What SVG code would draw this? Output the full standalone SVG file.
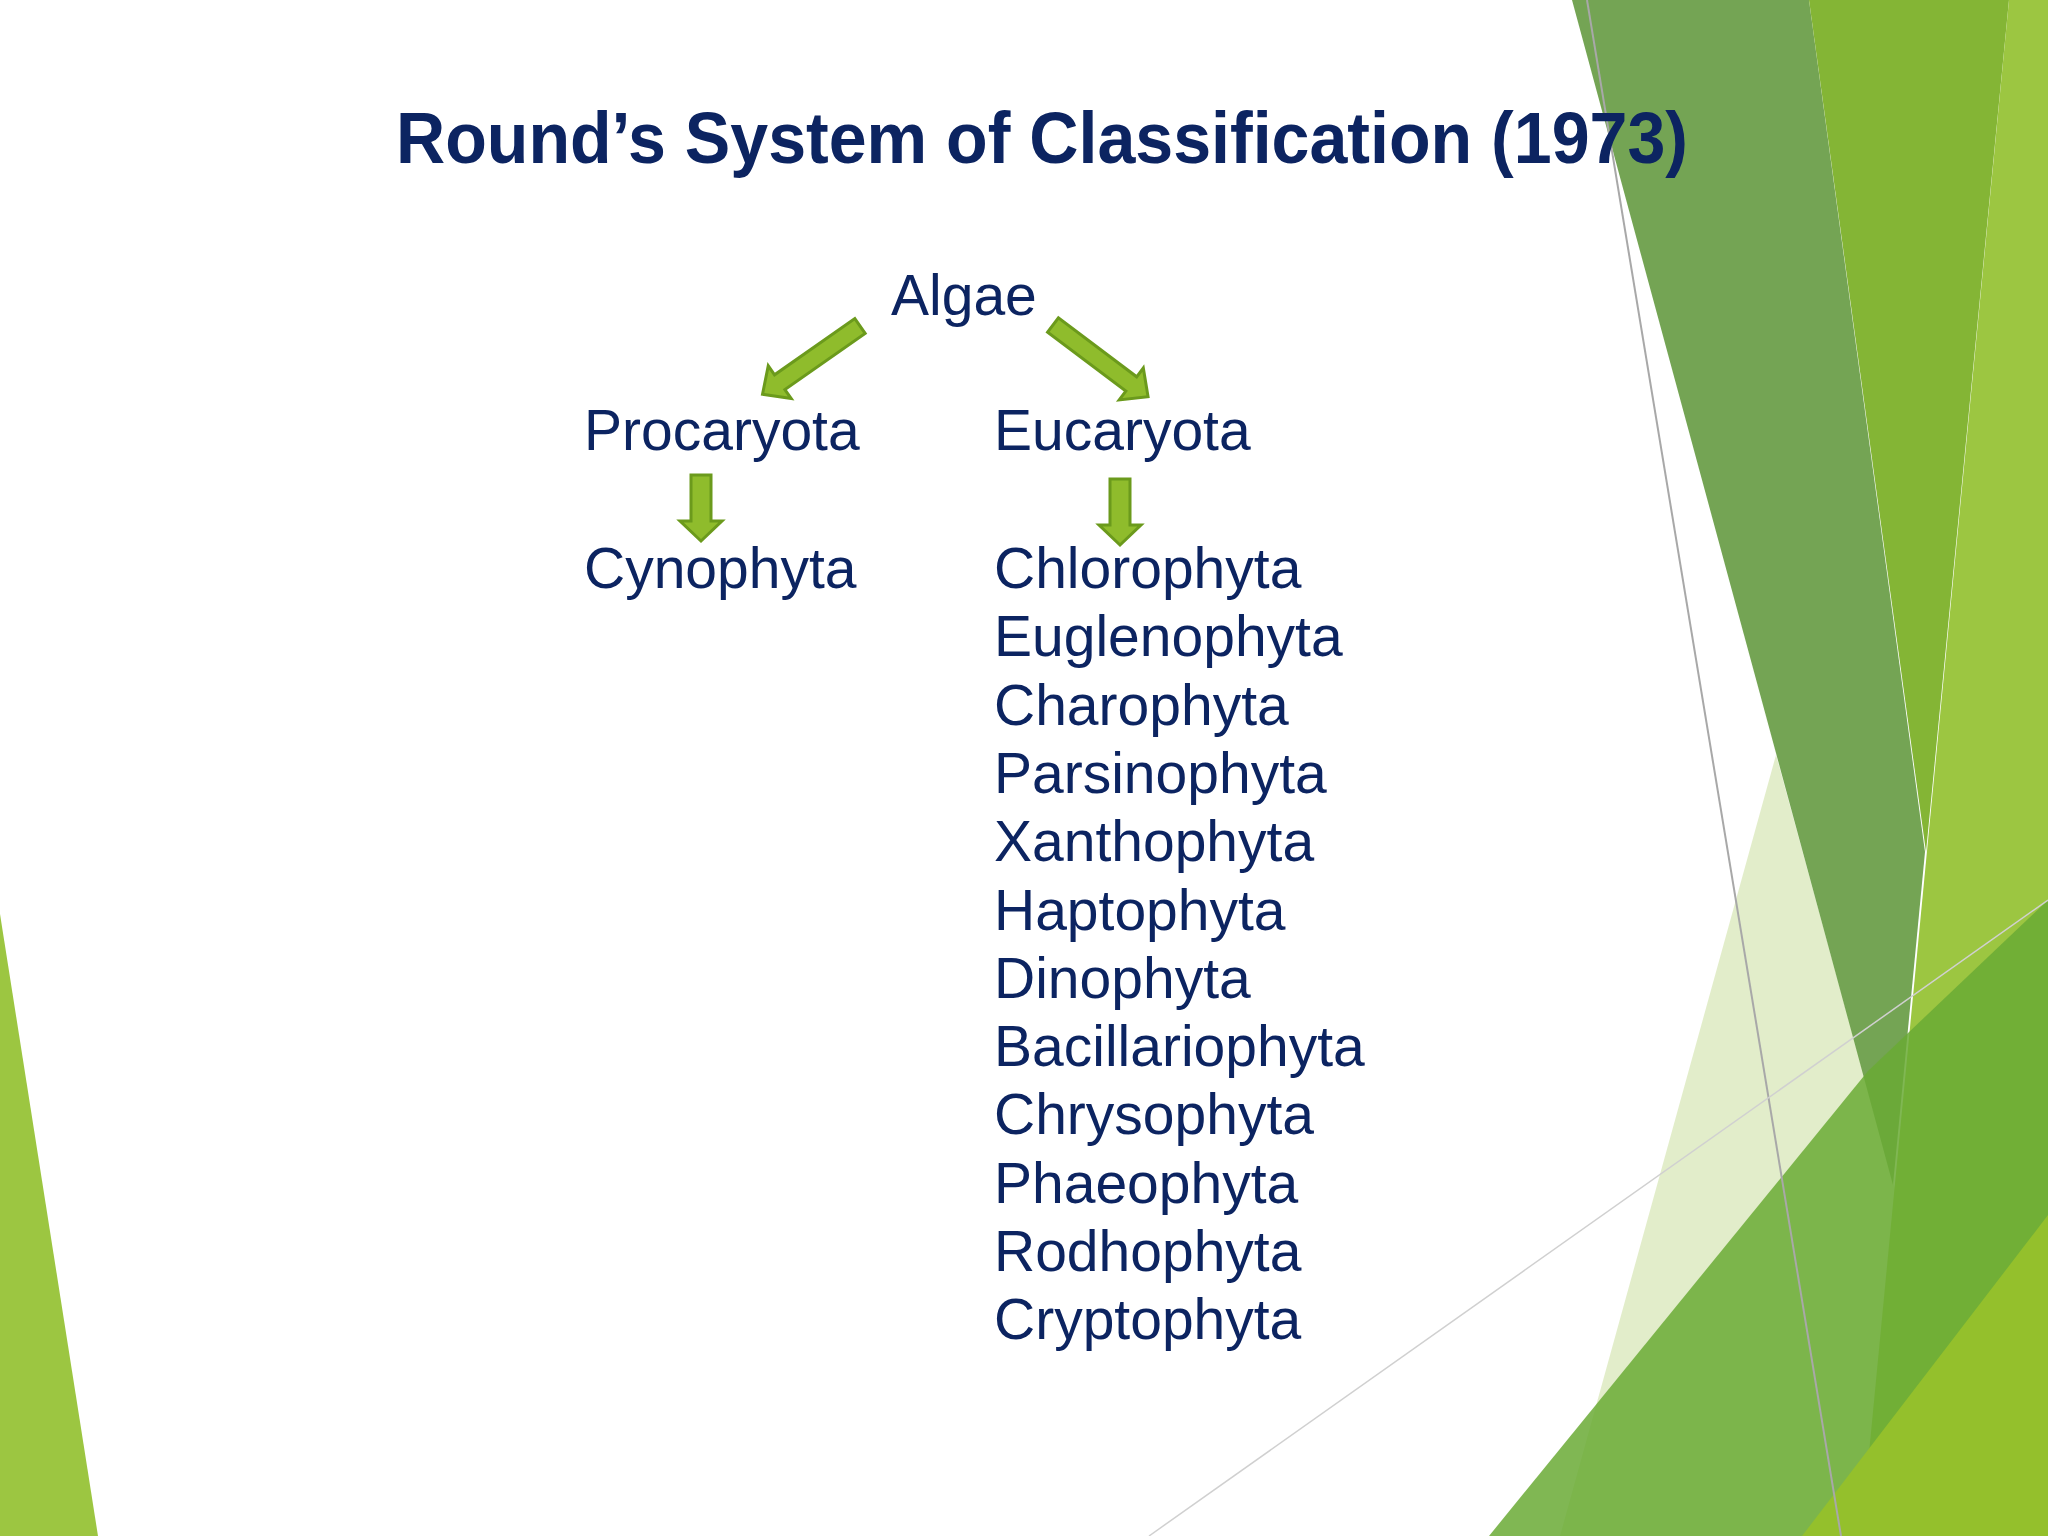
<svg xmlns="http://www.w3.org/2000/svg" width="2048" height="1536" viewBox="0 0 2048 1536">
<style>
.t{font-family:"Liberation Sans",Arial,sans-serif;fill:#0c2461;font-size:57px}
.h{font-family:"Liberation Sans",Arial,sans-serif;fill:#0c2461;font-size:72px;font-weight:bold}
.arr{fill:#8fbc2c;stroke:#6b9a1c;stroke-width:3}
</style>
<rect width="2048" height="1536" fill="#ffffff"/>
<g id="background">
<polygon points="1698,470 1776,755 1560,1536 1990,1536" fill="#cfe1a6" opacity="0.6"/>
<polygon points="1572,0 1809,0 1925,852 1893,1185" fill="#5c9436" opacity="0.85"/>
<polygon points="1809,0 2009,0 1926,852" fill="#84b535"/>
<polygon points="2009,0 2048,0 2048,1536 1861,1536" fill="#9cc641"/>
<polygon points="1489,1536 1868,1071 2048,900 2048,1536" fill="#6aaa35" opacity="0.85"/>
<polygon points="1802,1536 2048,1215 2048,1536" fill="#94c02c"/>
<polygon points="0,914 98,1536 0,1536" fill="#9cc641"/>
<line x1="1587" y1="0" x2="1841" y2="1536" stroke="#a8a8a8" stroke-width="2"/>
<line x1="1149" y1="1536" x2="2048" y2="900" stroke="#d0d0d0" stroke-width="1.5"/>
</g>
<g id="title"><text class="h" x="1042" y="163" text-anchor="middle" textLength="1292" lengthAdjust="spacingAndGlyphs">Round’s System of Classification (1973)</text></g>
<g id="connectors">
<polygon class="arr" transform="translate(860,326) rotate(55)" points="-9,0 9,0 9,98 20,98 0,119 -20,98 -9,98"/>
<polygon class="arr" transform="translate(1053,325) rotate(-53)" points="-9,0 9,0 9,98 20,98 0,119 -20,98 -9,98"/>
<polygon class="arr" transform="translate(701,475)" points="-10,0 10,0 10,46 21,46 0,66 -21,46 -10,46"/>
<polygon class="arr" transform="translate(1120,479)" points="-10,0 10,0 10,46 21,46 0,66 -21,46 -10,46"/>
</g>
<g id="algae"><text class="t" x="891" y="315">Algae</text></g>
<g id="procaryota"><text class="t" x="584" y="450">Procaryota</text></g>
<g id="eucaryota"><text class="t" x="994" y="450">Eucaryota</text></g>
<g id="cynophyta"><text class="t" x="584" y="588">Cynophyta</text></g>
<g id="eucaryota-list" class="t">
<text class="t" x="994" y="588">Chlorophyta</text>
<text class="t" x="994" y="656">Euglenophyta</text>
<text class="t" x="994" y="725">Charophyta</text>
<text class="t" x="994" y="793">Parsinophyta</text>
<text class="t" x="994" y="861">Xanthophyta</text>
<text class="t" x="994" y="930">Haptophyta</text>
<text class="t" x="994" y="998">Dinophyta</text>
<text class="t" x="994" y="1066">Bacillariophyta</text>
<text class="t" x="994" y="1134">Chrysophyta</text>
<text class="t" x="994" y="1203">Phaeophyta</text>
<text class="t" x="994" y="1271">Rodhophyta</text>
<text class="t" x="994" y="1339">Cryptophyta</text>
</g>
</svg>
